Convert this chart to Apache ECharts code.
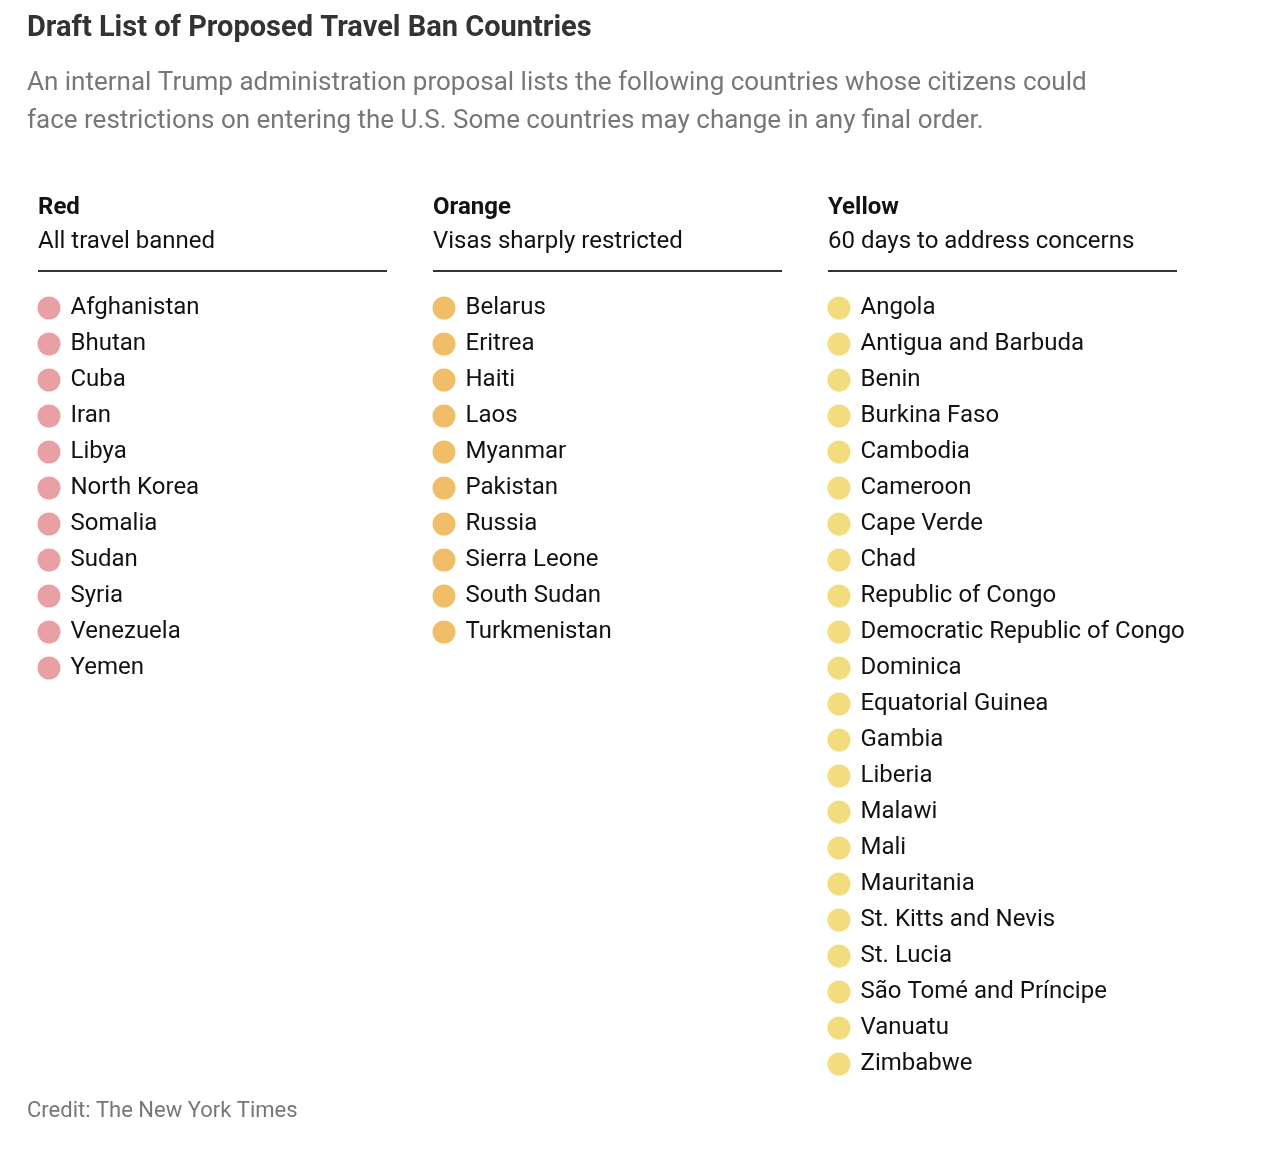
<!DOCTYPE html>
<html>
<head>
<meta charset="utf-8">
<script src="https://cdn.jsdelivr.net/npm/echarts@6/dist/echarts.min.js"></script>
<style>
  html, body { margin: 0; padding: 0; background: #fff; }
  #chart { width: 1264px; height: 1150px; }
</style>
</head>
<body>
<div id="chart"></div>
<script>
// country lists per tier
const redCountries = ['Afghanistan', 'Bhutan', 'Cuba', 'Iran', 'Libya', 'North Korea', 'Somalia', 'Sudan', 'Syria', 'Venezuela', 'Yemen'];
const orangeCountries = ['Belarus', 'Eritrea', 'Haiti', 'Laos', 'Myanmar', 'Pakistan', 'Russia', 'Sierra Leone', 'South Sudan', 'Turkmenistan'];
const yellowCountries = ['Angola', 'Antigua and Barbuda', 'Benin', 'Burkina Faso', 'Cambodia', 'Cameroon', 'Cape Verde', 'Chad',
  'Republic of Congo', 'Democratic Republic of Congo', 'Dominica', 'Equatorial Guinea', 'Gambia', 'Liberia', 'Malawi', 'Mali',
  'Mauritania', 'St. Kitts and Nevis', 'St. Lucia', 'São Tomé and Príncipe', 'Vanuatu', 'Zimbabwe'];
const tierNames = ['Red', 'Orange', 'Yellow'];
const tierDescs = ['All travel banned', 'Visas sharply restricted', '60 days to address concerns'];

const lists = [redCountries, orangeCountries, yellowCountries];
const colors = ['#e8a0a4', '#f0bd68', '#f2dc7e'];
const colLeft = [38, 433, 828];
const font = 'Roboto, "Noto Sans", sans-serif';

let myChart = echarts.init(document.getElementById('chart'));

const grids = [], xAxes = [], yAxes = [], series = [], graphics = [];
lists.forEach((list, i) => {
  grids.push({ left: colLeft[i] + 11, top: 290, width: 300, height: 22 * 36 });
  xAxes.push({ gridIndex: i, type: 'value', min: 0, max: 1, show: false });
  yAxes.push({ gridIndex: i, type: 'value', min: -0.5, max: 21.5, inverse: true, show: false });
  series.push({
    type: 'scatter', xAxisIndex: i, yAxisIndex: i, symbolSize: 23,
    itemStyle: { color: colors[i], opacity: 1 },
    label: { show: true, position: 'right', distance: 10, color: '#121212', fontSize: 24, fontFamily: font,
      formatter: p => list[p.dataIndex] },
    data: list.map((c, k) => [0, k]),
    silent: true
  });
  graphics.push(
    { type: 'text', left: colLeft[i], top: 196, style: { text: tierNames[i], font: 'bold 24px ' + font, fill: '#121212' } },
    { type: 'text', left: colLeft[i], top: 230, style: { text: tierDescs[i], font: '24px ' + font, fill: '#121212' } },
    { type: 'rect', left: colLeft[i], top: 270, shape: { width: 349, height: 2 }, style: { fill: '#333' } }
  );
});

graphics.push(
  { type: 'text', left: 27, top: 14, style: { text: 'Draft List of Proposed Travel Ban Countries', font: 'bold 29px ' + font, fill: '#333' } },
  { type: 'text', left: 27, top: 64, style: { text: 'An internal Trump administration proposal lists the following countries whose citizens could\nface restrictions on entering the U.S. Some countries may change in any final order.',
      font: '26px ' + font, fill: '#777', lineHeight: 38 } },
  { type: 'text', left: 27, top: 1100, style: { text: 'Credit: The New York Times', font: '22px ' + font, fill: '#777' } }
);

myChart.setOption({
  animation: false,
  grid: grids, xAxis: xAxes, yAxis: yAxes, series: series,
  graphic: graphics
});
</script>
</body>
</html>
